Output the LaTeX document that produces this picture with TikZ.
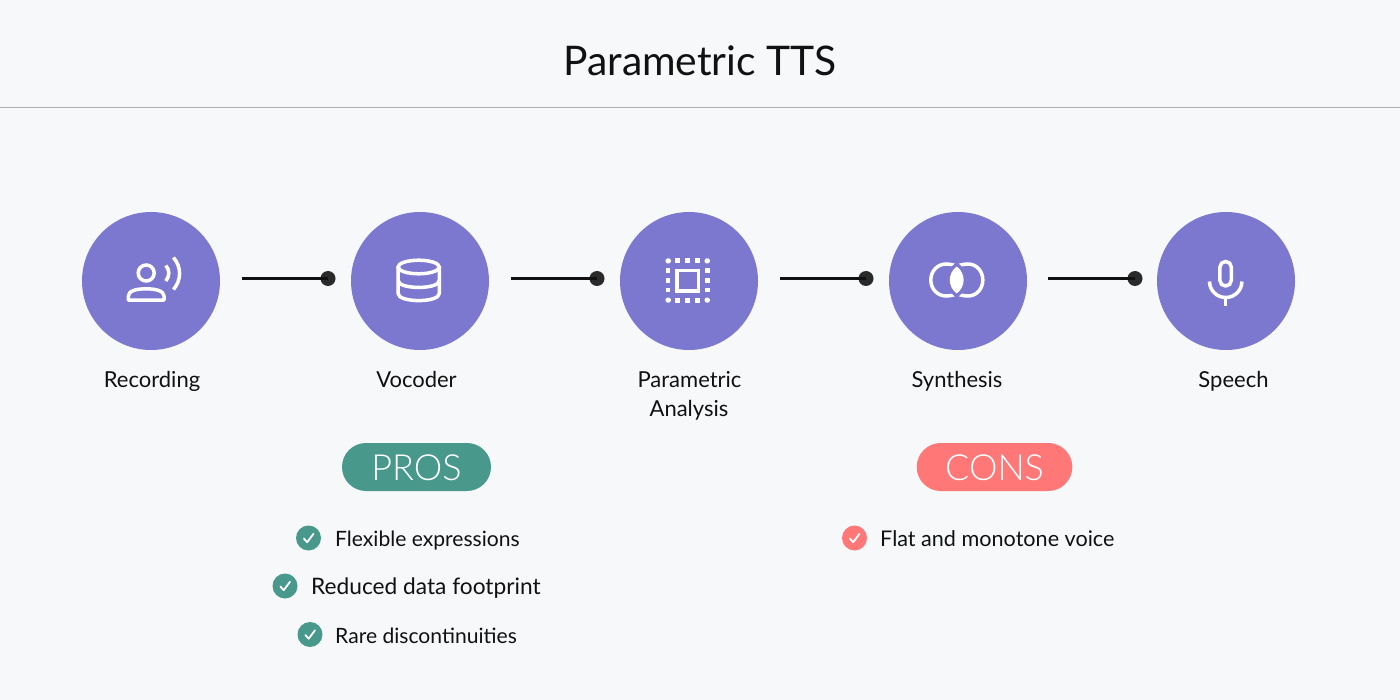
\documentclass[tikz,border=0pt]{standalone}
\usepackage{fontspec}
\setmainfont{Lato}
\newfontfamily\lightfont{Lato Light}
\definecolor{bgc}{HTML}{F7F8FA}
\definecolor{purp}{HTML}{7D78CF}
\definecolor{teal1}{HTML}{48998B}
\definecolor{red1}{HTML}{FF7777}
\definecolor{ink}{HTML}{111111}
\definecolor{dotc}{HTML}{2A2A2A}
\definecolor{rule1}{HTML}{B0B0B0}
\tikzset{
  x=1pt,y=-1pt,
  stepcircle/.style={circle,fill=purp,draw=none,minimum size=138pt,inner sep=0pt},
  endball/.style={circle,fill=dotc,draw=none,minimum size=15pt,inner sep=0pt},
  link/.style={draw=ink,line width=2.6pt},
  lbl/.style={font=\fontsize{22}{24}\selectfont,text=ink,anchor=base,inner sep=0pt},
  itemtxt/.style={font=\fontsize{#1}{24}\selectfont,text=ink,anchor=base west,inner sep=0pt},
  pill/.style={rounded corners=24pt,draw=none},
  pilltxt/.style={font=\lightfont\fontsize{36}{38}\selectfont,text=white,anchor=base,inner sep=0pt},
  badge/.style={circle,draw=none,minimum size=25pt,inner sep=0pt},
  tick/.style={draw=white,line width=1.8pt,line cap=round,line join=round},
  icon/.style={draw=white,line width=3.5pt},
}
\begin{document}
\begin{tikzpicture}
\useasboundingbox (0,0) rectangle (1400,700);
\fill[bgc] (0,0) rectangle (1400,700);
\coordinate (ruleL) at (0,107.5);
\coordinate (ruleR) at (1400,107.5);
\draw[rule1,line width=1.3pt] (ruleL) -- (ruleR);
\node[font=\fontsize{40.8}{44}\selectfont,text=ink,anchor=base,inner sep=0pt] (title) at (700,75.5) {Parametric TTS};

% step circles
\node[stepcircle] (s1) at (151,281) {};
\node[stepcircle] (s2) at (420,281) {};
\node[stepcircle] (s3) at (689,281) {};
\node[stepcircle] (s4) at (958,281) {};
\node[stepcircle] (s5) at (1226,281) {};

% connectors
\foreach \n/\xa/\xb in {1/242/328,2/511/597,3/780/866,4/1048/1135}{
  \coordinate (c\n) at (\xa,278.5);
  \node[endball] (b\n) at (\xb,278.5) {};
  \draw[link] (c\n) -- (b\n.center);
}

% labels
\node[lbl] (l1) at (152,387.5) {Recording};
\node[lbl] (l2) at (416.5,387.5) {Vocoder};
\node[lbl] (l3a) at (689.5,387.5) {Parametric};
\node[lbl] (l3b) at (689,417) {Analysis};
\node[lbl] (l4) at (957,387.5) {Synthesis};
\node[lbl] (l5) at (1233.5,387.5) {Speech};

% icon 1: person with sound
\draw[icon] (146.2,273) circle (8);
\draw[icon,line join=round] (128.4,300.2) -- (164,300.2) -- (164,296)
   .. controls (164,291) and (156,288.8) .. (146,288.8)
   .. controls (136,288.8) and (128.4,291) .. (128.4,296) -- cycle;
\draw[icon] (165.8,265.5) .. controls (169.8,270) and (169.8,276) .. (165.8,281);
\draw[icon] (173.5,257.5) .. controls (181.6,267) and (181.6,280) .. (173.5,289.5);

% icon 2: database
\draw[icon] (418.7,267) ellipse (20.6 and 6.8);
\draw[icon] (398.1,267) -- (398.1,293.5) .. controls (398.1,298) and (408,300.6) .. (418.7,300.6)
   .. controls (429.4,300.6) and (439.3,298) .. (439.3,293.5) -- (439.3,267);
\draw[icon] (398.1,280.5) .. controls (398.1,285) and (408,287.4) .. (418.7,287.4)
   .. controls (429.4,287.4) and (439.3,285) .. (439.3,280.5);

% icon 3: selection square
\draw[icon] (676.8,270.5) rectangle (698.6,290.8);
\foreach \p in {677.7,687.5,697.3}{
  \fill[white] (\p-2.4,258.4) rectangle (\p+2.4,263);
  \fill[white] (\p-2.4,298) rectangle (\p+2.4,302.6);
}
\foreach \p in {270.5,280.3,290.1}{
  \fill[white] (665.6,\p-2.4) rectangle (670.2,\p+2.4);
  \fill[white] (705.2,\p-2.4) rectangle (709.8,\p+2.4);
}
\fill[white,rounded corners=1.5pt] (665.6,263.4) -- (665.6,258.4) -- (670.8,258.4) -- (670.8,263.4) -- cycle;
\fill[white,rounded corners=1.5pt] (704.6,263.4) -- (704.6,258.4) -- (709.8,258.4) -- (709.8,263.4) -- cycle;
\fill[white,rounded corners=1.5pt] (665.6,297.6) -- (665.6,302.6) -- (670.8,302.6) -- (670.8,297.6) -- cycle;
\fill[white,rounded corners=1.5pt] (704.6,297.6) -- (704.6,302.6) -- (709.8,302.6) -- (709.8,297.6) -- cycle;

% icon 4: overlapping rings
\draw[icon] (956,265.8) .. controls (951,264.3) and (949,264) .. (946.2,264)
   .. controls (937.5,264) and (930.8,271) .. (930.8,280)
   .. controls (930.8,289) and (937.5,296) .. (946.2,296)
   .. controls (949,296) and (951,295.7) .. (956,294.2);
\draw[icon] (958,265.8) .. controls (963,264.3) and (965,264) .. (967.8,264)
   .. controls (976.5,264) and (982.8,271) .. (982.8,280)
   .. controls (982.8,289) and (976.5,296) .. (967.8,296)
   .. controls (965,296) and (963,295.7) .. (958,294.2);
\fill[purp] (956.7,262) -- (950,268) -- (950,292) -- (956.7,298) -- (963.4,292) -- (963.4,268) -- cycle;
\fill[white] (956.7,266.5) .. controls (952,270) and (949.8,275) .. (949.8,280)
   .. controls (949.8,285) and (952,290) .. (956.7,293.5)
   .. controls (961.4,290) and (963.6,285) .. (963.6,280)
   .. controls (963.6,275) and (961.4,270) .. (956.7,266.5) -- cycle;

% icon 5: microphone
\draw[icon,rounded corners=5.6pt] (1219.9,261.5) rectangle (1231.3,286);
\draw[icon] (1209.5,281.5) arc[start angle=180,end angle=0,x radius=16.2,y radius=16];
\draw[icon] (1225.7,297.5) -- (1225.7,306);

% PROS / CONS
\fill[teal1,pill] (342,443) rectangle (491,491);
\node[pilltxt] (pros) at (416.5,480) {PROS};
\fill[red1,pill] (916.7,443) rectangle (1072.3,491);
\node[pilltxt] (cons) at (994.5,480) {CONS};

% items
\foreach \nm/\cx/\cy/\col in {p1/308.5/538/teal1,p2/285/586/teal1,p3/310/634.5/teal1,c1/854.5/538/red1}{
  \node[badge,fill=\col] (\nm) at (\cx,\cy) {};
  \draw[tick] (\cx-4.6,\cy+0.6) -- (\cx-1.3,\cy+4.2) -- (\cx+5,\cy-4.2);
}
\node[itemtxt=21.1] (t1) at (335,546) {Flexible expressions};
\node[itemtxt=22.7] (t2) at (311,594.5) {Reduced data footprint};
\node[itemtxt=21.1] (t3) at (335,643) {Rare discontinuities};
\node[itemtxt=21.6] (t4) at (880,546) {Flat and monotone voice};
\end{tikzpicture}
\end{document}
